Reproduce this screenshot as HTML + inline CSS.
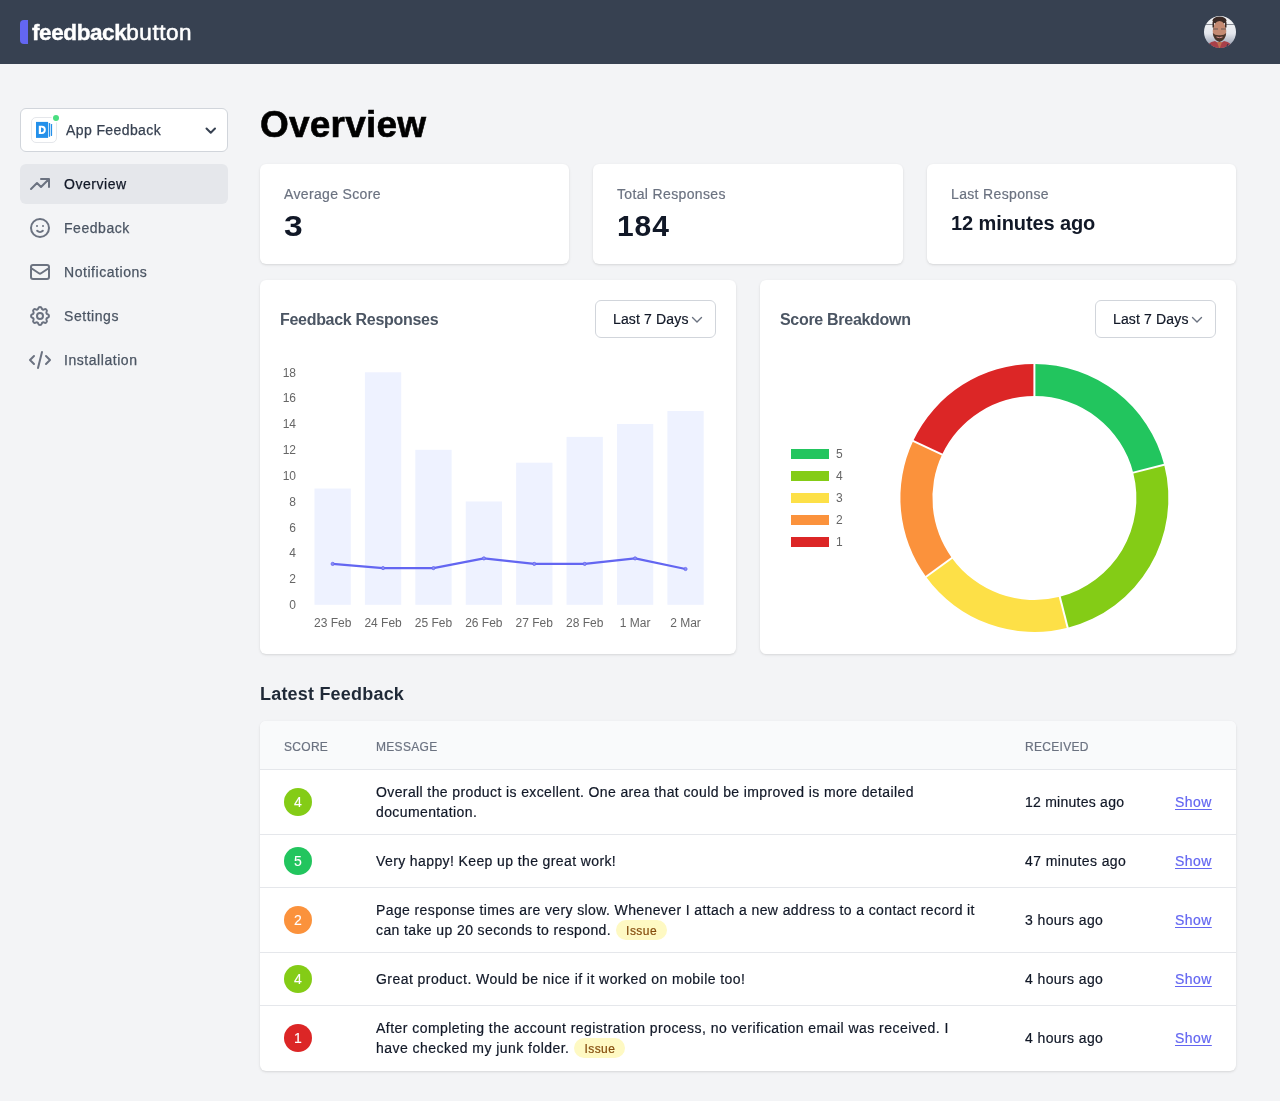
<!DOCTYPE html>
<html>
<head>
<meta charset="utf-8">
<style>
*{box-sizing:border-box;margin:0;padding:0}
html,body{width:1280px;height:1101px;overflow:hidden}
body{background:#f3f4f6;font-family:"Liberation Sans",sans-serif;color:#111827;position:relative}
.abs{position:absolute}
.t{position:absolute;white-space:nowrap;will-change:transform}
.nav span,.dd span,svg.abs{will-change:transform}
#hdr{left:0;top:0;width:1280px;height:64px;background:#374151}
.card{position:absolute;background:#fff;border-radius:6px;box-shadow:0 1px 3px 0 rgba(0,0,0,.1),0 1px 2px -1px rgba(0,0,0,.1)}
.nav{position:absolute;left:20px;width:208px;height:40px;border-radius:6px}
.nav.active{background:#e5e7eb}
.nav svg{position:absolute;left:8px;top:8px}
.nav span{position:absolute;left:44px;top:10px;font-size:14px;line-height:20px;font-weight:400;color:#4b5563;letter-spacing:.55px;-webkit-text-stroke:.25px #4b5563}
.nav.active span{color:#111827;-webkit-text-stroke:.25px #111827}
.lbl{font-size:14px;line-height:20px;color:#6b7280;letter-spacing:.35px;-webkit-text-stroke:.2px #6b7280}
.big{font-size:30px;line-height:36px;font-weight:700;color:#111827}
.ctitle{font-size:16px;line-height:24px;font-weight:700;color:#4b5563;letter-spacing:-.3px}
.dd{position:absolute;width:121px;height:38px;border:1px solid #d1d5db;border-radius:6px;background:#fff}
.dd span{position:absolute;left:17px;top:8px;font-size:14px;line-height:20px;color:#111827;letter-spacing:.15px;-webkit-text-stroke:.2px #111827}
.dd svg{position:absolute;left:95px;top:14.5px}
.th{font-size:12px;line-height:16px;color:#6b7280;letter-spacing:.3px;-webkit-text-stroke:.2px #6b7280}
.msg{font-size:14px;line-height:20px;color:#111827;letter-spacing:.39px;-webkit-text-stroke:.2px #111827}
.badge{position:absolute;left:24px;width:28px;height:28px;border-radius:14px;color:#fff;font-size:14px;line-height:28px;text-align:center;-webkit-text-stroke:.1px #fff;will-change:transform}
.row{position:absolute;left:0;width:976px;border-top:1px solid #e5e7eb}
.show{color:#6366f1;text-decoration:underline;text-underline-offset:1.6px;letter-spacing:.45px;-webkit-text-stroke:.2px #6366f1}
.issue{display:inline-block;height:20px;line-height:22px;overflow:hidden;padding:0 10px;border-radius:10px;background:#fef9c3;color:#854d0e;font-size:12px;letter-spacing:.45px;vertical-align:top;margin-left:5px;-webkit-text-stroke:.2px #854d0e}
</style>
</head>
<body>
<!-- header -->
<div id="hdr" class="abs">
  <div class="abs" style="left:20px;top:20px;width:8px;height:24px;background:#6366f1;border-radius:4px 0 0 4px"></div>
  <div class="t" style="left:31.5px;top:19px;font-size:22.5px;line-height:28px;color:#fff"><b style="letter-spacing:-.4px;-webkit-text-stroke:.4px #fff">feedback</b><span style="-webkit-text-stroke:.55px #fff;letter-spacing:.5px">button</span></div>
  <svg class="abs" style="left:1204px;top:16px" width="32" height="32" viewBox="0 0 32 32">
    <defs><clipPath id="av"><circle cx="16" cy="16" r="16"/></clipPath>
    <linearGradient id="avbg" x1="0" y1="0" x2="0" y2="1"><stop offset="0" stop-color="#f7f7f8"/><stop offset=".55" stop-color="#e4e6ec"/><stop offset="1" stop-color="#8a93a6"/></linearGradient>
    <filter id="avb" x="-10%" y="-10%" width="120%" height="120%"><feGaussianBlur stdDeviation=".45"/></filter></defs>
    <g clip-path="url(#av)"><rect width="32" height="32" fill="url(#avbg)"/>
    <g filter="url(#avb)">
    <path d="M1 8.5h8M22 8.5h10" stroke="#6b6f7a" stroke-width=".8"/>
    <ellipse cx="15.5" cy="4.5" rx="7" ry="4" fill="#3a2a25"/>
    <ellipse cx="15.5" cy="15" rx="6.8" ry="10" fill="#c48a72"/>
    <path d="M8.5 6.5q0 -1 1.5 -1v6h-1.5zM22.5 6.5q0 -1 -1.5 -1v6h1.5z" fill="#3a2a25"/>
    <path d="M9 13h5M17 13h5" stroke="#6d5a55" stroke-width="1"/>
    <path d="M8.8 17q.5 7 6.7 9q6.2 -2 6.7 -9q-2 2.5 -6.7 2.2q-4.7 .3 -6.7 -2.2z" fill="#4a342c"/>
    <path d="M12.5 21q3 1.3 6 0" stroke="#d9908a" stroke-width="1" fill="none"/>
    <path d="M2 34q1 -8 9 -9l4.5 3l4.5 -3q8 1 9 9z" fill="#a8414a"/>
    <path d="M13 26l2.5 7l2.5 -7z" fill="#c07050"/>
    <path d="M6 28l3 4M24 28l-2 4" stroke="#2c3350" stroke-width="1"/>
    </g></g>
  </svg>
</div>

<!-- sidebar -->
<div class="abs" style="left:20px;top:108px;width:208px;height:44px;background:#fff;border:1px solid #d1d5db;border-radius:6px">
  <div class="abs" style="left:10px;top:8px;width:26px;height:26px;border:1px solid #e5e7eb;border-radius:5px;background:#fff"></div>
  <svg class="abs" style="left:14px;top:12px" width="18" height="18" viewBox="0 0 18 18">
    <rect x="1" y="0.9" width="12.1" height="16" fill="#2490ea"/>
    <path fill-rule="evenodd" d="M3.8 4.7h3q4 0 4 4.15t-4 4.15h-3zM6 6.4v4.9h.5q2.4-.2 2.4-2.45t-2.4-2.45z" fill="#fff"/>
    <rect x="13.8" y="2" width="1.3" height="13.8" rx=".4" fill="#2490ea"/>
    <rect x="15.8" y="3" width="1.3" height="11.9" rx=".4" fill="#2490ea"/>
  </svg>
  <div class="abs" style="left:31.8px;top:5.5px;width:6.5px;height:6.5px;border-radius:4px;background:#4ade80;box-shadow:0 0 0 1.5px #fff"></div>
  <div class="t" style="left:45px;top:11px;font-size:14px;line-height:20px;color:#374151;letter-spacing:.4px;-webkit-text-stroke:.25px #374151">App Feedback</div>
  <svg class="abs" style="left:179px;top:10.5px" width="20" height="20" viewBox="0 0 20 20"><path d="M6.5 8.5l4.25 4.25 4.25-4.25" fill="none" stroke="#374151" stroke-width="2" stroke-linecap="round" stroke-linejoin="round"/></svg>
</div>

<div class="nav active" style="top:164px">
  <svg width="24" height="24" viewBox="0 0 24 24" fill="none" stroke="#6b7280" stroke-width="2" stroke-linecap="round" stroke-linejoin="round"><path d="M13 7h8m0 0v8m0-8l-8 8-4-4-6 6"/></svg>
  <span>Overview</span>
</div>
<div class="nav" style="top:208px">
  <svg width="24" height="24" viewBox="0 0 24 24" fill="none" stroke="#6b7280" stroke-width="2" stroke-linecap="round" stroke-linejoin="round"><path d="M14.828 14.828a4 4 0 01-5.656 0M9 10h.01M15 10h.01M21 12a9 9 0 11-18 0 9 9 0 0118 0z"/></svg>
  <span>Feedback</span>
</div>
<div class="nav" style="top:252px">
  <svg width="24" height="24" viewBox="0 0 24 24" fill="none" stroke="#6b7280" stroke-width="2" stroke-linecap="round" stroke-linejoin="round"><path d="M3 8l7.89 5.26a2 2 0 002.22 0L21 8M5 19h14a2 2 0 002-2V7a2 2 0 00-2-2H5a2 2 0 00-2 2v10a2 2 0 002 2z"/></svg>
  <span>Notifications</span>
</div>
<div class="nav" style="top:296px">
  <svg width="24" height="24" viewBox="0 0 24 24" fill="none" stroke="#6b7280" stroke-width="2" stroke-linecap="round" stroke-linejoin="round"><path d="M10.325 4.317c.426-1.756 2.924-1.756 3.35 0a1.724 1.724 0 002.573 1.066c1.543-.94 3.31.826 2.37 2.37a1.724 1.724 0 001.065 2.572c1.756.426 1.756 2.924 0 3.35a1.724 1.724 0 00-1.066 2.573c.94 1.543-.826 3.31-2.37 2.37a1.724 1.724 0 00-2.572 1.065c-.426 1.756-2.924 1.756-3.35 0a1.724 1.724 0 00-2.573-1.066c-1.543.94-3.31-.826-2.37-2.37a1.724 1.724 0 00-1.065-2.572c-1.756-.426-1.756-2.924 0-3.35a1.724 1.724 0 001.066-2.573c-.94-1.543.826-3.31 2.37-2.37.996.608 2.296.07 2.572-1.065z"/><path d="M15 12a3 3 0 11-6 0 3 3 0 016 0z"/></svg>
  <span>Settings</span>
</div>
<div class="nav" style="top:340px">
  <svg width="24" height="24" viewBox="0 0 24 24" fill="none" stroke="#6b7280" stroke-width="2" stroke-linecap="round" stroke-linejoin="round"><path d="M10 20l4-16m4 4l4 4-4 4M6 16l-4-4 4-4"/></svg>
  <span>Installation</span>
</div>

<!-- main -->
<div class="t" style="left:260px;top:104px;font-size:37px;line-height:41px;font-weight:700;color:#000;letter-spacing:.2px;-webkit-text-stroke:.6px #000">Overview</div>

<div class="card" style="left:260px;top:164px;width:309px;height:100px">
  <div class="t lbl" style="left:24px;top:20px">Average Score</div>
  <div class="t big" style="left:24px;top:44px;transform:scaleX(1.12);transform-origin:0 0">3</div>
</div>
<div class="card" style="left:593px;top:164px;width:310px;height:100px">
  <div class="t lbl" style="left:24px;top:20px">Total Responses</div>
  <div class="t big" style="left:24px;top:44px;letter-spacing:.9px">184</div>
</div>
<div class="card" style="left:927px;top:164px;width:309px;height:100px">
  <div class="t lbl" style="left:24px;top:20px">Last Response</div>
  <div class="t" style="left:24px;top:45px;font-size:20px;line-height:28px;font-weight:700;color:#111827;letter-spacing:-.1px">12 minutes ago</div>
</div>

<div class="card" style="left:260px;top:280px;width:476px;height:374px;font-family:'Liberation Sans',sans-serif">
<svg class="abs" style="left:0;top:0" width="476" height="374" viewBox="260 280 476 374">
<rect x="314.50" y="488.55" width="36.30" height="116.25" fill="#eef2ff"/>
<rect x="364.91" y="372.29" width="36.30" height="232.51" fill="#eef2ff"/>
<rect x="415.32" y="449.80" width="36.30" height="155.00" fill="#eef2ff"/>
<rect x="465.73" y="501.46" width="36.30" height="103.34" fill="#eef2ff"/>
<rect x="516.14" y="462.71" width="36.30" height="142.09" fill="#eef2ff"/>
<rect x="566.55" y="436.88" width="36.30" height="167.92" fill="#eef2ff"/>
<rect x="616.96" y="423.96" width="36.30" height="180.84" fill="#eef2ff"/>
<rect x="667.37" y="411.04" width="36.30" height="193.75" fill="#eef2ff"/>
<text x="296" y="609.10" text-anchor="end" font-size="12" fill="#666">0</text>
<text x="296" y="583.27" text-anchor="end" font-size="12" fill="#666">2</text>
<text x="296" y="557.43" text-anchor="end" font-size="12" fill="#666">4</text>
<text x="296" y="531.60" text-anchor="end" font-size="12" fill="#666">6</text>
<text x="296" y="505.76" text-anchor="end" font-size="12" fill="#666">8</text>
<text x="296" y="479.93" text-anchor="end" font-size="12" fill="#666">10</text>
<text x="296" y="454.10" text-anchor="end" font-size="12" fill="#666">12</text>
<text x="296" y="428.26" text-anchor="end" font-size="12" fill="#666">14</text>
<text x="296" y="402.43" text-anchor="end" font-size="12" fill="#666">16</text>
<text x="296" y="376.59" text-anchor="end" font-size="12" fill="#666">18</text>
<text x="332.65" y="626.7" text-anchor="middle" font-size="12" fill="#666">23 Feb</text>
<text x="383.06" y="626.7" text-anchor="middle" font-size="12" fill="#666">24 Feb</text>
<text x="433.47" y="626.7" text-anchor="middle" font-size="12" fill="#666">25 Feb</text>
<text x="483.88" y="626.7" text-anchor="middle" font-size="12" fill="#666">26 Feb</text>
<text x="534.29" y="626.7" text-anchor="middle" font-size="12" fill="#666">27 Feb</text>
<text x="584.70" y="626.7" text-anchor="middle" font-size="12" fill="#666">28 Feb</text>
<text x="635.11" y="626.7" text-anchor="middle" font-size="12" fill="#666">1 Mar</text>
<text x="685.52" y="626.7" text-anchor="middle" font-size="12" fill="#666">2 Mar</text>
<polyline points="332.65,563.9 383.06,568.1 433.47,568.1 483.88,558.4 534.29,563.9 584.70,563.9 635.11,558.4 685.52,569.0" fill="none" stroke="#6366f1" stroke-width="2.2" stroke-linejoin="round"/>
<circle cx="332.65" cy="563.9" r="1.6" fill="#8c8ff3" stroke="#6366f1" stroke-width=".8"/>
<circle cx="383.06" cy="568.1" r="1.6" fill="#8c8ff3" stroke="#6366f1" stroke-width=".8"/>
<circle cx="433.47" cy="568.1" r="1.6" fill="#8c8ff3" stroke="#6366f1" stroke-width=".8"/>
<circle cx="483.88" cy="558.4" r="1.6" fill="#8c8ff3" stroke="#6366f1" stroke-width=".8"/>
<circle cx="534.29" cy="563.9" r="1.6" fill="#8c8ff3" stroke="#6366f1" stroke-width=".8"/>
<circle cx="584.70" cy="563.9" r="1.6" fill="#8c8ff3" stroke="#6366f1" stroke-width=".8"/>
<circle cx="635.11" cy="558.4" r="1.6" fill="#8c8ff3" stroke="#6366f1" stroke-width=".8"/>
<circle cx="685.52" cy="569.0" r="1.6" fill="#8c8ff3" stroke="#6366f1" stroke-width=".8"/>
</svg>
  <div class="t ctitle" style="left:20px;top:28px">Feedback Responses</div>
  <div class="dd" style="left:335px;top:20px"><span>Last 7 Days</span><svg width="12" height="8" viewBox="0 0 12 8"><path d="M1.5 1.5l4.5 4.5 4.5-4.5" fill="none" stroke="#6b7280" stroke-width="1.4" stroke-linecap="round" stroke-linejoin="round"/></svg></div>
</div>
<div class="card" style="left:760px;top:280px;width:476px;height:374px">
<svg class="abs" style="left:0;top:0" width="476" height="374" viewBox="760 280 476 374">
<path d="M1034.40 364.00A134.0 134.0 0 0 1 1164.19 464.68L1133.20 472.63A102.0 102.0 0 0 0 1034.40 396.00Z" fill="#22c55e"/>
<path d="M1164.19 464.68A134.0 134.0 0 0 1 1067.72 627.79L1059.77 596.80A102.0 102.0 0 0 0 1133.20 472.63Z" fill="#84cc16"/>
<path d="M1067.72 627.79A134.0 134.0 0 0 1 925.99 576.76L951.88 557.95A102.0 102.0 0 0 0 1059.77 596.80Z" fill="#fde047"/>
<path d="M925.99 576.76A134.0 134.0 0 0 1 913.15 440.95L942.11 454.57A102.0 102.0 0 0 0 951.88 557.95Z" fill="#fb923c"/>
<path d="M913.15 440.95A134.0 134.0 0 0 1 1034.40 364.00L1034.40 396.00A102.0 102.0 0 0 0 942.11 454.57Z" fill="#dc2626"/>
<line x1="1034.40" y1="398.00" x2="1034.40" y2="362.00" stroke="#fff" stroke-width="2"/>
<line x1="1131.26" y1="473.13" x2="1166.13" y2="464.18" stroke="#fff" stroke-width="2"/>
<line x1="1059.27" y1="594.86" x2="1068.22" y2="629.73" stroke="#fff" stroke-width="2"/>
<line x1="953.50" y1="556.78" x2="924.37" y2="577.94" stroke="#fff" stroke-width="2"/>
<line x1="943.92" y1="455.42" x2="911.34" y2="440.09" stroke="#fff" stroke-width="2"/>
<rect x="791" y="449" width="38" height="10" fill="#22c55e"/>
<text x="836" y="458" font-size="12" fill="#666">5</text>
<rect x="791" y="471" width="38" height="10" fill="#84cc16"/>
<text x="836" y="480" font-size="12" fill="#666">4</text>
<rect x="791" y="493" width="38" height="10" fill="#fde047"/>
<text x="836" y="502" font-size="12" fill="#666">3</text>
<rect x="791" y="515" width="38" height="10" fill="#fb923c"/>
<text x="836" y="524" font-size="12" fill="#666">2</text>
<rect x="791" y="537" width="38" height="10" fill="#dc2626"/>
<text x="836" y="546" font-size="12" fill="#666">1</text>
</svg>
  <div class="t ctitle" style="left:20px;top:28px">Score Breakdown</div>
  <div class="dd" style="left:335px;top:20px"><span>Last 7 Days</span><svg width="12" height="8" viewBox="0 0 12 8"><path d="M1.5 1.5l4.5 4.5 4.5-4.5" fill="none" stroke="#6b7280" stroke-width="1.4" stroke-linecap="round" stroke-linejoin="round"/></svg></div>
</div>

<div class="t" style="left:260px;top:680px;font-size:18px;line-height:28px;font-weight:700;color:#1f2937;letter-spacing:.2px">Latest Feedback</div>
<div class="card" style="left:260px;top:721px;width:976px;height:350px;overflow:hidden">
<div class="abs" style="left:0;top:0;width:976px;height:48px;background:#f9fafb"></div>
<div class="t th" style="left:24px;top:739px;top:18px">SCORE</div>
<div class="t th" style="left:116px;top:18px">MESSAGE</div>
<div class="t th" style="left:765px;top:18px">RECEIVED</div>
<div class="row" style="top:48px;height:65px"></div>
<div class="badge" style="top:67px;background:#84cc16">4</div>
<div class="t msg" style="left:116px;top:61px">Overall the product is excellent. One area that could be improved is more detailed<br>documentation.</div>
<div class="t msg" style="left:765px;top:71px;letter-spacing:.25px">12 minutes ago</div>
<div class="t msg show" style="right:24px;top:71px">Show</div>
<div class="row" style="top:113px;height:53px"></div>
<div class="badge" style="top:126px;background:#22c55e">5</div>
<div class="t msg" style="left:116px;top:130px">Very happy! Keep up the great work!</div>
<div class="t msg" style="left:765px;top:130px">47 minutes ago</div>
<div class="t msg show" style="right:24px;top:130px">Show</div>
<div class="row" style="top:166px;height:65px"></div>
<div class="badge" style="top:185px;background:#fb923c">2</div>
<div class="t msg" style="left:116px;top:179px">Page response times are very slow. Whenever I attach a new address to a contact record it<br>can take up 20 seconds to respond.<span class="issue">Issue</span></div>
<div class="t msg" style="left:765px;top:189px">3 hours ago</div>
<div class="t msg show" style="right:24px;top:189px">Show</div>
<div class="row" style="top:231px;height:53px"></div>
<div class="badge" style="top:244px;background:#84cc16">4</div>
<div class="t msg" style="left:116px;top:248px;letter-spacing:.445px">Great product. Would be nice if it worked on mobile too!</div>
<div class="t msg" style="left:765px;top:248px">4 hours ago</div>
<div class="t msg show" style="right:24px;top:248px">Show</div>
<div class="row" style="top:284px;height:65px"></div>
<div class="badge" style="top:303px;background:#dc2626">1</div>
<div class="t msg" style="left:116px;top:297px;letter-spacing:.46px">After completing the account registration process, no verification email was received. I<br>have checked my junk folder.<span class="issue">Issue</span></div>
<div class="t msg" style="left:765px;top:307px">4 hours ago</div>
<div class="t msg show" style="right:24px;top:307px">Show</div>
</div>

</body>
</html>
